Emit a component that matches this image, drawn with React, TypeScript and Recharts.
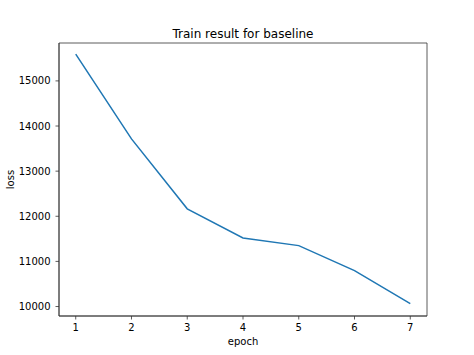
import React from 'react';
import { LineChart, Line, XAxis, YAxis, Label, ReferenceArea } from 'recharts';

const epochs = [1, 2, 3, 4, 5, 6, 7];
const losses = [15595, 13715, 12165, 11520, 11350, 10795, 10065];
const xTicks = [1, 2, 3, 4, 5, 6, 7];
const yTicks = [10000, 11000, 12000, 13000, 14000, 15000];
const xDomain = [0.7, 7.3];
const yDomain = [9790, 15840];
const title = 'Train result for baseline';
const xLabel = 'epoch';
const yLabel = 'loss';

const data = epochs.map((e, i) => ({ epoch: e, loss: losses[i] }));

const FONT = 'DejaVu Sans';
const AX = '#333333';

const YLabelContent = (props: any) => {
  const vb = props.viewBox || {};
  const cx = vb.x + 10.5;
  const cy = vb.y + vb.height / 2;
  return (
    <text
      x={cx}
      y={cy}
      transform={`rotate(-90, ${cx}, ${cy})`}
      textAnchor="middle"
      dominantBaseline="central"
      fontFamily={FONT}
      fontSize={10}
      fill="#000"
    >
      {yLabel}
    </text>
  );
};

export default function App() {
  return (
    <div style={{ position: 'absolute', left: 0, top: 0, background: '#fff' }}>
      <LineChart
        width={474}
        height={355}
        data={data}
        margin={{ top: 43, right: 47, bottom: 0, left: 0 }}
      >
        <XAxis
          dataKey="epoch"
          type="number"
          domain={xDomain}
          ticks={xTicks}
          allowDataOverflow
          height={39}
          tickSize={3.5}
          tickMargin={4.5}
          stroke={AX}
          axisLine={{ stroke: AX, strokeWidth: 0.8 }}
          tickLine={{ stroke: AX, strokeWidth: 0.8 }}
          tick={{ fill: '#000', fontFamily: FONT, fontSize: 10 }}
        >
          <Label
            value={xLabel}
            position="insideBottom"
            offset={10}
            fill="#000"
            fontFamily={FONT}
            fontSize={10}
          />
        </XAxis>
        <YAxis
          type="number"
          domain={yDomain}
          ticks={yTicks}
          allowDataOverflow
          width={59}
          tickSize={3.5}
          tickMargin={5}
          axisLine={{ stroke: AX, strokeWidth: 0.8 }}
          tickLine={{ stroke: AX, strokeWidth: 0.8 }}
          tick={{ fill: '#000', fontFamily: FONT, fontSize: 10 }}
        >
          <Label content={YLabelContent} />
        </YAxis>
        <ReferenceArea
          x1={xDomain[0]}
          x2={xDomain[1]}
          y1={yDomain[0]}
          y2={yDomain[1]}
          fill="none"
          fillOpacity={0}
          stroke={AX}
          strokeWidth={0.8}
          ifOverflow="visible"
        >
          <Label
            value={title}
            position="top"
            offset={5.5}
            fill="#000"
            fontFamily={FONT}
            fontSize={12}
          />
        </ReferenceArea>
        <Line
          type="linear"
          dataKey="loss"
          stroke="#1f77b4"
          strokeWidth={1.5}
          dot={false}
          isAnimationActive={false}
        />
      </LineChart>
    </div>
  );
}
